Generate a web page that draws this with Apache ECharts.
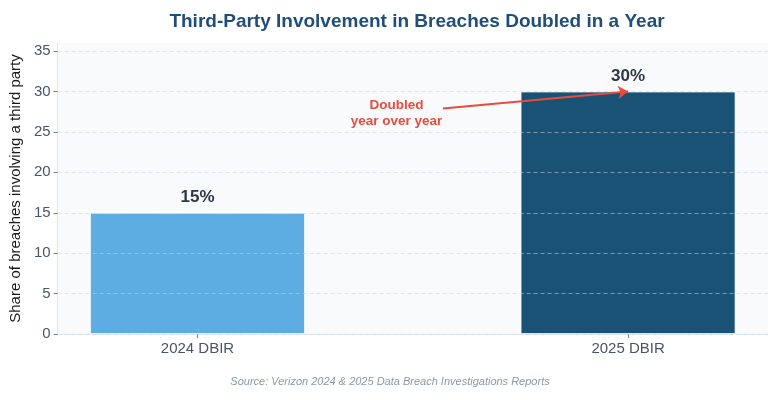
<!DOCTYPE html>
<html>
<head>
<meta charset="utf-8">
<script src="https://cdn.jsdelivr.net/npm/echarts@6/dist/echarts.min.js"></script>
<style>
  html, body { margin: 0; padding: 0; background: #fff; }
  #chart { width: 780px; height: 400px; }
</style>
</head>
<body>
<div id="chart"></div>
<script>
// data
const categories = ['2024 DBIR', '2025 DBIR']
const shareValues = [15, 30]
const barColors = ['#5dade2', '#1a5276']
const yTicks = [0, 5, 10, 15, 20, 25, 30, 35]
// annotation: text anchor and arrow start, in data units
const noteText = 'Doubled\nyear over year'
const noteAt = [0.462, 27.3]
const arrowFrom = [0.57, 27.9]

const chart = echarts.init(document.getElementById('chart'))

const barData = shareValues.map((v, i) => ({
  value: [i, v],
  itemStyle: { color: barColors[i] }
}))

chart.setOption({
  backgroundColor: '#ffffff',
  animation: false,
  title: {
    text: 'Third-Party Involvement in Breaches Doubled in a Year',
    left: 412,
    textAlign: 'center',
    top: 7,
    textStyle: {
      fontFamily: 'Liberation Sans, Arial, sans-serif',
      fontSize: 19,
      fontWeight: 'bold',
      color: '#1f4e79'
    }
  },
  grid: {
    left: 57,
    right: 12,
    top: 43,
    bottom: 66,
    show: true,
    backgroundColor: '#f8fafc',
    borderWidth: 0
  },
  xAxis: {
    type: 'value',
    min: -0.325,
    max: 1.325,
    splitLine: { show: false },
    axisLine: { show: true, onZero: false, lineStyle: { color: '#e2e8f0', width: 1 } },
    axisTick: {
      show: true,
      customValues: [0, 1],
      length: 4,
      lineStyle: { color: '#718096' }
    },
    axisLabel: {
      customValues: [0, 1],
      formatter: v => categories[Math.round(v)] || '',
      fontFamily: 'Liberation Sans, Arial, sans-serif',
      fontSize: 15,
      color: '#4a5568',
      margin: 7
    }
  },
  yAxis: {
    type: 'value',
    min: 0,
    max: 36,
    interval: 5,
    z: 5,
    name: 'Share of breaches involving a third party',
    nameLocation: 'middle',
    nameGap: 31,
    nameTextStyle: {
      fontFamily: 'Liberation Sans, Arial, sans-serif',
      fontSize: 15,
      color: '#1a1a1a'
    },
    axisLine: { show: true, onZero: false, lineStyle: { color: '#e2e8f0', width: 1 } },
    axisTick: {
      show: true,
      customValues: yTicks,
      length: 4,
      lineStyle: { color: '#718096' }
    },
    axisLabel: {
      customValues: yTicks,
      fontFamily: 'Liberation Sans, Arial, sans-serif',
      fontSize: 15,
      color: '#4a5568',
      margin: 7
    },
    splitLine: {
      show: true,
      lineStyle: { color: 'rgba(203,213,225,0.55)', type: [4, 3], width: 1 }
    }
  },
  series: [{
    type: 'bar',
    data: barData,
    barWidth: 215,
    itemStyle: { borderColor: 'rgba(255,255,255,0.7)', borderWidth: 1 },
    label: {
      show: true,
      position: 'top',
      distance: 7,
      formatter: p => p.value[1] + '%',
      fontFamily: 'Liberation Sans, Arial, sans-serif',
      fontSize: 17,
      fontWeight: 'bold',
      color: '#2d3748'
    },
    markLine: {
      silent: true,
      symbol: ['none', 'arrow'],
      symbolSize: 10,
      z: 10,
      label: { show: false },
      lineStyle: { color: '#e74c3c', width: 2.2, type: 'solid' },
      data: [[
        { coord: arrowFrom },
        { coord: [1, shareValues[1]] }
      ]]
    },
    markPoint: {
      silent: true,
      symbol: 'circle',
      symbolSize: 0,
      data: [{ coord: noteAt }],
      label: {
        show: true,
        position: 'inside',
        formatter: noteText,
        align: 'center',
        lineHeight: 16,
        fontFamily: 'Liberation Sans, Arial, sans-serif',
        fontSize: 13.5,
        fontWeight: 'bold',
        color: '#e74c3c'
      }
    }
  }],
  graphic: [{
    type: 'text',
    left: 'center',
    top: 376,
    style: {
      text: 'Source: Verizon 2024 & 2025 Data Breach Investigations Reports',
      fontFamily: 'Liberation Sans, Arial, sans-serif',
      fontSize: 11,
      fontStyle: 'italic',
      fill: '#8a99a6'
    }
  }]
})
</script>
</body>
</html>
